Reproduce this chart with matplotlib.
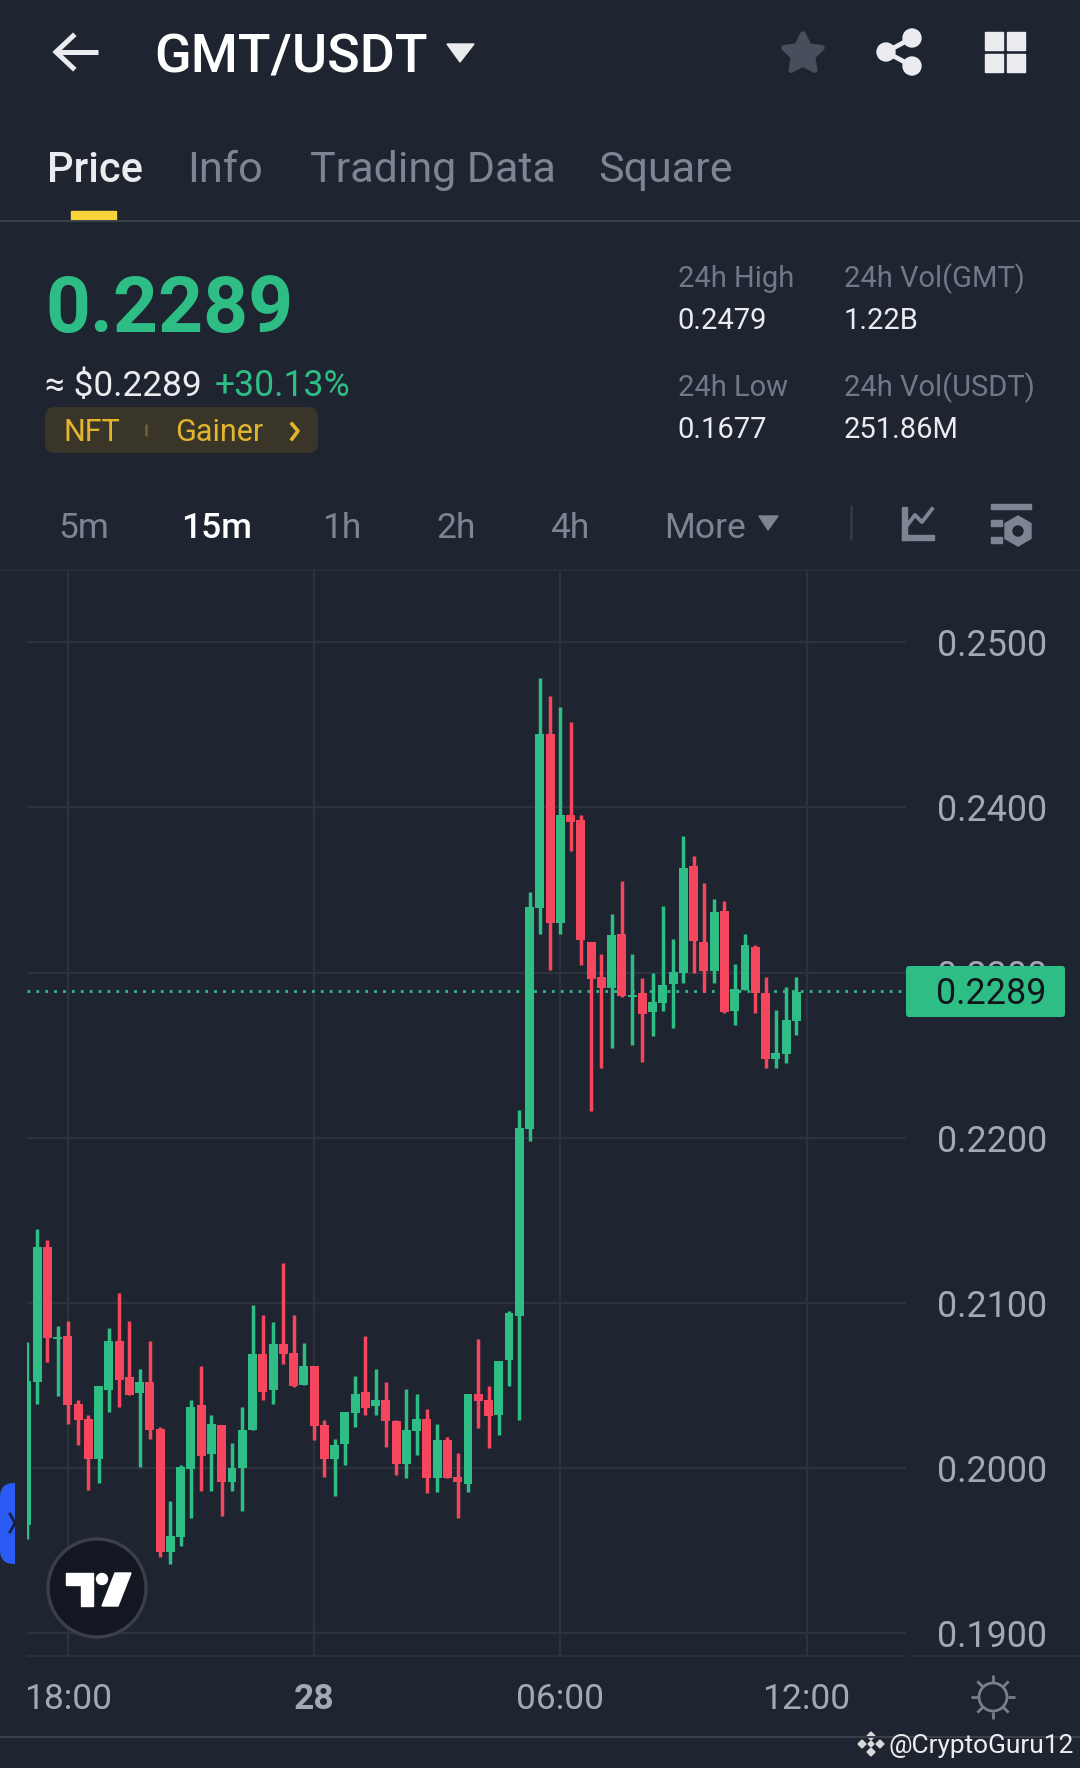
import math

import matplotlib
matplotlib.use("Agg")
import matplotlib.pyplot as plt
from matplotlib.patches import Circle, FancyBboxPatch, Polygon, Rectangle, RegularPolygon

# candles, 15m bars
opens = [0.19656, 0.20519, 0.21341, 0.20784, 0.20802, 0.20390, 0.20299, 0.20056, 0.20475, 0.20772,
         0.20553, 0.20456, 0.20523, 0.20238, 0.19493, 0.19584, 0.19996, 0.20384, 0.20087, 0.20262,
         0.19917, 0.20002, 0.20232, 0.20693, 0.20475, 0.20753, 0.20699, 0.20505, 0.20620, 0.20262,
         0.20056, 0.20147, 0.20335, 0.20462, 0.20378, 0.20414, 0.20283, 0.20026, 0.20226, 0.20299,
         0.19941, 0.20172, 0.19947, 0.19905, 0.20450, 0.20414, 0.20323, 0.20656, 0.20923, 0.22055,
         0.23393, 0.24446, 0.23302, 0.23956, 0.23925, 0.23188, 0.22976, 0.22909, 0.23236, 0.22853,
         0.22879, 0.22764, 0.22813, 0.22934, 0.23000, 0.23647, 0.23188, 0.23012, 0.23375, 0.22770,
         0.22897, 0.23157, 0.22879, 0.22474, 0.22510, 0.22710]
highs = [0.20761, 0.21450, 0.21384, 0.20862, 0.20893, 0.20412, 0.20323, 0.20499, 0.20850, 0.21062,
         0.20893, 0.20602, 0.20772, 0.20250, 0.19802, 0.20020, 0.20414, 0.20620, 0.20323, 0.20262,
         0.20153, 0.20372, 0.20990, 0.20929, 0.20883, 0.21244, 0.20929, 0.20759, 0.20620, 0.20293,
         0.20178, 0.20341, 0.20559, 0.20802, 0.20602, 0.20523, 0.20293, 0.20481, 0.20450, 0.20359,
         0.20269, 0.20190, 0.20093, 0.20450, 0.20784, 0.20499, 0.20650, 0.20953, 0.22171, 0.23490,
         0.24786, 0.24675, 0.24609, 0.24518, 0.23956, 0.23188, 0.23115, 0.23357, 0.23556, 0.23115,
         0.22970, 0.23000, 0.23405, 0.23206, 0.23829, 0.23708, 0.23544, 0.23448, 0.23435, 0.23054,
         0.23236, 0.23169, 0.22976, 0.22776, 0.22915, 0.22976]
lows = [0.19570, 0.20390, 0.20642, 0.20438, 0.20269, 0.20139, 0.19867, 0.19909, 0.20341, 0.20372,
        0.20444, 0.20008, 0.20178, 0.19465, 0.19420, 0.19529, 0.19699, 0.19861, 0.19861, 0.19711,
        0.19861, 0.19741, 0.20232, 0.20414, 0.20390, 0.20632, 0.20493, 0.20505, 0.20172, 0.19947,
        0.19832, 0.20020, 0.20250, 0.20323, 0.20323, 0.20129, 0.19960, 0.19941, 0.20081, 0.19850,
        0.19858, 0.19941, 0.19699, 0.19858, 0.20244, 0.20123, 0.20202, 0.20499, 0.20293, 0.21978,
        0.23234, 0.23018, 0.23234, 0.23738, 0.23048, 0.22165, 0.22423, 0.22546, 0.22855, 0.22559,
        0.22456, 0.22619, 0.22770, 0.22667, 0.22940, 0.23000, 0.22885, 0.22940, 0.22758, 0.22685,
        0.22897, 0.22758, 0.22423, 0.22423, 0.22450, 0.22625]
closes = [0.20529, 0.21341, 0.20786, 0.20792, 0.20384, 0.20293, 0.20056, 0.20495, 0.20772, 0.20535,
          0.20444, 0.20523, 0.20232, 0.19493, 0.19590, 0.20008, 0.20372, 0.20075, 0.20269, 0.19917,
          0.20002, 0.20232, 0.20693, 0.20462, 0.20753, 0.20693, 0.20499, 0.20620, 0.20256, 0.20056,
          0.20141, 0.20341, 0.20450, 0.20366, 0.20414, 0.20287, 0.20026, 0.20232, 0.20299, 0.19941,
          0.20172, 0.19941, 0.19917, 0.20450, 0.20408, 0.20317, 0.20650, 0.20941, 0.22062, 0.23399,
          0.24446, 0.23302, 0.23956, 0.23913, 0.23200, 0.22964, 0.22909, 0.23230, 0.22861, 0.22865,
          0.22752, 0.22825, 0.22927, 0.23006, 0.23635, 0.23194, 0.23012, 0.23369, 0.22764, 0.22903,
          0.23169, 0.22879, 0.22474, 0.22516, 0.22716, 0.22885]

last_price = 0.2289
price_ticks = [0.19, 0.20, 0.21, 0.22, 0.23, 0.24, 0.25]
price_labels = ["0.1900", "0.2000", "0.2100", "0.2200", "0.2300", "0.2400", "0.2500"]
time_ticks = [4, 28, 52, 76]
time_labels = ["18:00", "28", "06:00", "12:00"]

BG = "#1f2530"
GRID = "#2d333e"
GREEN = "#2ebd85"
RED = "#f6465d"
WHITE = "#eaecef"
GREY = "#7d8595"
AXIS_TEXT = "#a3a9b3"
YELLOW = "#e3b52f"
FONT = "Roboto"

W, H = 1080, 1768
fig = plt.figure(figsize=(W / 100, H / 100), dpi=100, facecolor=BG)

# chart area
ax = fig.add_axes([27 / W, 1 - 1656 / H, (906 - 27) / W, (1656 - 570) / H], zorder=1)
ax.set_facecolor("none")
ax.set_xlim((27 - 26.8) / 10.26, (906 - 26.8) / 10.26)
ax.set_ylim(0.21 - 353 / 16520, 0.21 + 733 / 16520)
for s in ax.spines.values():
    s.set_visible(False)
ax.set_axisbelow(True)
ax.grid(True, color=GRID, lw=1.6)
ax.set_xticks(time_ticks, time_labels, family=FONT, fontsize=25.5, color=AXIS_TEXT)
ax.xaxis.get_ticklabels()[1].set_fontweight("bold")
ax.yaxis.tick_right()
ax.set_yticks(price_ticks, price_labels, family=FONT, fontsize=25.8, color=AXIS_TEXT)
ax.tick_params(axis="both", length=0)
ax.tick_params(axis="x", pad=19.5)
ax.tick_params(axis="y", pad=22.5)

bars = range(len(opens))
colors = [GREEN if c >= o else RED for o, c in zip(opens, closes)]
ax.vlines(bars, lows, highs, colors=colors, lw=2.5, zorder=3)
ax.bar(bars, [abs(c - o) for o, c in zip(opens, closes)], bottom=[min(o, c) for o, c in zip(opens, closes)],
       width=0.87, color=colors, zorder=3)
ax.axhline(last_price, color=GREEN, lw=2, ls=(0, (1, 2.2)), zorder=2)

# everything else goes on a pixel overlay
ui = fig.add_axes([0, 0, 1, 1], zorder=5)
ui.set_xlim(0, W)
ui.set_ylim(H, 0)
ui.axis("off")


def label(x, y, s, size, color=WHITE, weight="normal", ha="left", va="baseline"):
    ui.text(x, y, s, fontsize=size, color=color, fontweight=weight, ha=ha, va=va, family=FONT)


def rule(x0, x1, y0, y1, color, lw):
    ui.plot([x0, x1], [y0, y1], color=color, lw=lw, solid_capstyle="butt")


# header
rule(59, 98, 52, 52, WHITE, 3.6)
ui.plot([73, 56, 73], [36, 52, 68], color=WHITE, lw=3.6, solid_joinstyle="miter")
label(154, 72, "GMT/USDT", 38.8, "#ffffff", "medium")
ui.add_patch(Polygon([(447, 44), (474, 44), (460, 62)], color=WHITE))
star = []
for k in range(10):
    r = 20 if k % 2 == 0 else 10
    star.append((803 + r * math.cos(math.radians(-90 + 36 * k)), 54 + r * math.sin(math.radians(-90 + 36 * k))))
ui.add_patch(Polygon(star, facecolor="#474f5c", edgecolor="#474f5c", lw=4, joinstyle="round"))
for tx, ty in [(912, 38), (912, 66)]:
    rule(886, tx, 52, ty, WHITE, 3.4)
    ui.add_patch(Circle((tx, ty), 9, color=WHITE))
ui.add_patch(Circle((886, 52), 9, color=WHITE))
for gx in (985, 1007):
    for gy in (32, 54):
        ui.add_patch(Rectangle((gx, gy), 18, 18, color=WHITE))

# tabs
label(47, 182, "Price", 30, WHITE, "medium")
label(187, 182, "Info", 31.2, GREY)
label(310, 182, "Trading Data", 31, GREY)
label(598, 182, "Square", 31, GREY)
ui.add_patch(Rectangle((71, 211), 45, 9, color="#f8d33a"))
rule(0, W, 221, 221, "#3a404a", 1.4)

# price block
label(45, 332, "0.2289", 56.5, GREEN, "bold")
label(45, 396, "≈ $0.2289", 25.4, WHITE)
label(215, 396, "+30.13%", 25.7, GREEN)
ui.add_patch(FancyBboxPatch((53, 415), 257, 30, boxstyle="round,pad=8,rounding_size=10", color="#3a3529", lw=0))
label(63, 441, "NFT", 22, YELLOW)
rule(146, 146, 424, 436, "#6d5f30", 2)
label(175, 441, "Gainer", 22, YELLOW)
ui.plot([292, 298, 292], [424, 431, 439], color=YELLOW, lw=2.6)

# 24h stats
label(678, 287, "24h High", 21, "#70798a")
label(677, 329, "0.2479", 21, WHITE)
label(678, 396, "24h Low", 21, "#70798a")
label(677, 438, "0.1677", 21, WHITE)
label(844, 287, "24h Vol(GMT)", 21, "#70798a")
label(844, 329, "1.22B", 21, WHITE)
label(844, 396, "24h Vol(USDT)", 21, "#70798a")
label(844, 438, "251.86M", 21, WHITE)

# intervals
label(58, 538, "5m", 25.5, GREY)
label(181, 538, "15m", 25.5, "#ffffff", "medium")
label(322, 538, "1h", 25.5, GREY)
label(436, 538, "2h", 25.5, GREY)
label(550, 538, "4h", 25.5, GREY)
label(664, 538, "More", 25.5, GREY)
ui.add_patch(Polygon([(759, 516), (778, 516), (768, 530)], color=GREY))
rule(851, 851, 505, 540, "#333a44", 2)
# chart type icon
ui.add_patch(Rectangle((902, 507), 5, 33, color=GREY))
ui.add_patch(Rectangle((902, 535), 32, 5, color=GREY))
ui.plot([905, 915, 922, 932], [528, 515, 522, 509], color=GREY, lw=2.8)
# settings icon
ui.add_patch(Rectangle((991, 504), 40, 5, color=GREY))
ui.add_patch(Rectangle((991, 520), 11, 6, color=GREY))
ui.add_patch(Rectangle((991, 537), 11, 6, color=GREY))
ui.add_patch(RegularPolygon((1018, 531), 6, radius=15, color=GREY))
ui.add_patch(Circle((1018, 531), 5, color=BG))
rule(0, W, 570, 570, "#282e38", 1.5)

# last price box
ui.add_patch(FancyBboxPatch((906, 966), 159, 51, boxstyle="round,pad=0,rounding_size=3", color=GREEN, lw=0))
label(991, 994, "0.2289", 25.8, "#12161c", ha="center", va="center")

# left tab and logo
tab = FancyBboxPatch((0, 1483), 40, 81, boxstyle="round,pad=0,rounding_size=14", color="#2a5cf5", lw=0)
ui.add_patch(tab)
tab.set_clip_path(Rectangle((0, 1483), 15, 81, transform=ui.transData))
ui.plot([10, 15], [1514, 1523], color="#14213f", lw=2)
ui.plot([15, 10], [1523, 1532], color="#14213f", lw=2)
ui.add_patch(Circle((97, 1588), 49, facecolor="#131722", edgecolor="#3a3f4a", lw=2.4))
ui.add_patch(Polygon([(66, 1573), (93, 1573), (93, 1606), (81, 1606), (81, 1585), (66, 1585)], color="#ffffff"))
ui.add_patch(Circle((102, 1579), 5.5, color="#ffffff"))
ui.add_patch(Polygon([(115, 1573), (131, 1573), (118, 1606), (102, 1606)], color="#ffffff"))

# bottom strip
rule(27, 906, 1656, 1656, "#2a303a", 1.5)
rule(911, W, 1656, 1656, "#2a303a", 1.5)
rule(0, W, 1737, 1737, "#3a404a", 1.4)
ui.add_patch(Circle((993, 1697), 14, facecolor="none", edgecolor="#7a808b", lw=2))
for dx, dy in [(1, 0), (-1, 0), (0, 1), (0, -1), (0.71, 0.71), (-0.71, 0.71), (0.71, -0.71), (-0.71, -0.71)]:
    rule(993 + 15 * dx, 993 + 22 * dx, 1697 + 15 * dy, 1697 + 22 * dy, "#7a808b", 2)

# watermark
for cx, cy, r in [(871, 1736, 4), (871, 1752, 4), (862, 1744, 4), (880, 1744, 4), (871, 1744, 3)]:
    ui.add_patch(Polygon([(cx - r, cy), (cx, cy - r), (cx + r, cy), (cx, cy + r)], color="#d8d8d8"))
label(889, 1753, "@CryptoGuru12", 18.9, "#ececec")

fig.savefig("out.png", dpi=100, facecolor=BG)
